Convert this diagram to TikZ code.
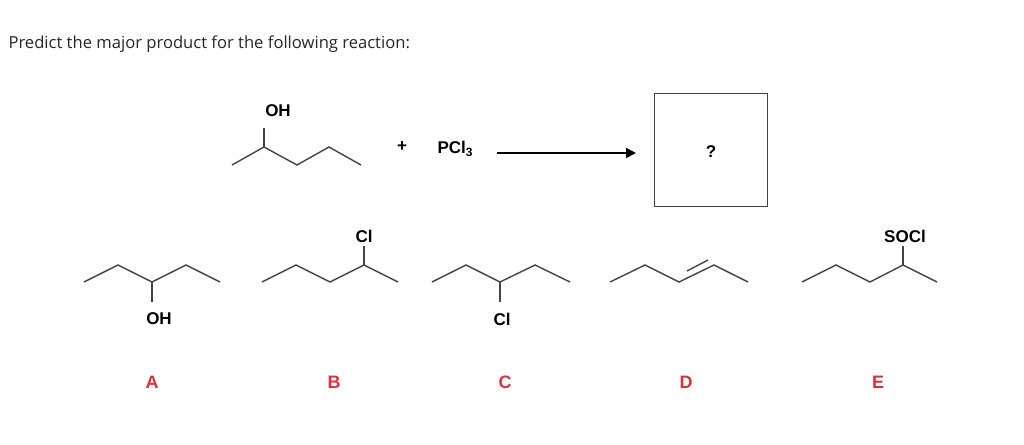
\documentclass[tikz,border=0pt]{standalone}
\usepackage{fontspec}
\setmainfont{Liberation Sans}
\newfontfamily\titlefont{Open Sans}
\usetikzlibrary{arrows.meta}
\definecolor{bond}{HTML}{444444}
\definecolor{lab}{HTML}{E0303A}
\tikzset{bd/.style={draw=bond,line width=1.4pt},
 atm/.style={font=\bfseries\fontsize{17}{17}\selectfont,inner sep=0pt},
 lt/.style={font=\bfseries\fontsize{18}{18}\selectfont,text=lab,inner sep=0pt}}
\begin{document}
\begin{tikzpicture}[x=1pt,y=-1pt]
\useasboundingbox (0,0) rectangle (1024,444);
\node[anchor=west,font=\titlefont\fontsize{16.6}{17}\selectfont,text=black!85] (title) at (5,44) {Predict the major product for the following reaction:};
% reactant
\draw[bd] (232,165)--(264,147)--(297,165)--(329,147)--(361,165);
\coordinate (r1) at (264,147);
\node[atm] (oh0) at (278,111) {OH};
\draw[bd] (r1)--(264,128);
\node[atm] (plus) at (402,147) {+};
\node[atm] (pcl) at (455,149) {PCl\raisebox{-0.3ex}{\fontsize{12}{12}\selectfont 3}};
\node[draw=black!75,line width=1pt,minimum width=113pt,minimum height=113pt] (box) at (710.5,149.5) {};
\node[atm] (q) at (711,152) {?};
\coordinate (as) at (497,153);
\coordinate (ae) at (636,153);
\draw[line width=1.6pt,-{Triangle[length=10pt,width=10pt]}] (as)--(ae);
% A
\draw[bd] (84,282)--(118,265)--(152,282)--(186,265)--(220,282);
\draw[bd] (152,282)--(152,302);
\node[atm] (ohA) at (159,319) {OH};
% B
\draw[bd] (262,282)--(296,265)--(330,282)--(364,265)--(398,282);
\draw[bd] (364,265)--(364,246);
\node[atm] (clB) at (364,236) {Cl};
% C
\draw[bd] (432,282)--(466,265)--(500,282)--(535,265)--(570,282);
\draw[bd] (500,282)--(500,302);
\node[atm] (clC) at (502,319) {Cl};
% D
\draw[bd] (610,282)--(645,265)--(679,282)--(714,265)--(748,282);
\draw[bd] (687,271)--(708,260);
% E
\draw[bd] (802,282)--(836,265)--(870,282)--(903,265)--(937,282);
\draw[bd] (903,265)--(903,246);
\node[atm] (soclE) at (905,236) {SOCl};
% letters
\node[lt] (A) at (152,382) {A};
\node[lt] (B) at (334,382) {B};
\node[lt] (C) at (505,382) {C};
\node[lt] (D) at (686,382) {D};
\node[lt] (E) at (878,382) {E};
\end{tikzpicture}
\end{document}
